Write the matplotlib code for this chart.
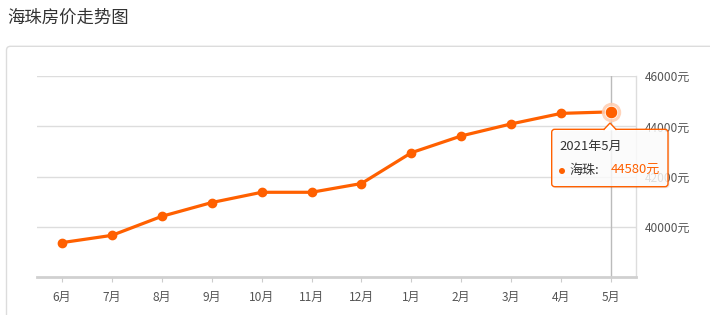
import matplotlib
matplotlib.use("Agg")
import matplotlib.pyplot as plt
from matplotlib.patches import FancyBboxPatch, Polygon, Circle
from matplotlib.transforms import IdentityTransform

plt.rcParams['font.family'] = ['Noto Sans CJK SC', 'DejaVu Sans']

months = ['6月', '7月', '8月', '9月', '10月', '11月', '12月', '1月', '2月', '3月', '4月', '5月']
prices = [39360, 39650, 40410, 40960, 41370, 41370, 41720, 42950, 43620, 44100, 44520, 44580]
yticks = [40000, 42000, 44000, 46000]
ytick_labels = [f'{v}元' for v in yticks]
title = '海珠房价走势图'
tip_title = '2021年5月'
tip_name = '海珠:'
tip_value = f'{prices[-1]}元'

ORANGE = '#ff6000'
W, H = 710, 315
fig = plt.figure(figsize=(W / 100, H / 100), dpi=100)
fig.patch.set_facecolor('white')

def px(x, y):
    # top-origin pixel -> display coords
    return (x, H - y)

# outer box
box = FancyBboxPatch(px(6.5, 330), 720, 330 - 46.3, boxstyle='round,pad=0,rounding_size=4',
                     transform=IdentityTransform(), facecolor='white', edgecolor='#dcdcdc',
                     linewidth=1, zorder=-5)
fig.patches.append(box)

fig.text(7 / W, 1 - 18 / H, title, fontsize=12.5, color='#333333', va='center', ha='left')

L, R, T, B = 37, 636, 76.3, 276.7
ax = fig.add_axes([L / W, 1 - B / H, (R - L) / W, (B - T) / H])
ax.set_facecolor('none')
x = list(range(len(months)))
ax.plot(x, prices, color=ORANGE, linewidth=2.3, marker='o', markersize=6, zorder=3,
        solid_capstyle='round')
ax.set_xlim(-0.5, len(months) - 0.5)
ax.set_ylim(38000, 46000)
ax.set_xticks(x)
ax.set_xticklabels(months, fontsize=8.6, color='#555555')
ax.set_yticks(yticks)
ax.set_yticklabels(ytick_labels, fontsize=8.6, color='#555555')
ax.yaxis.tick_right()
ax.tick_params(axis='y', length=0, pad=6)
ax.tick_params(axis='x', length=3.5, width=0.8, color='#cccccc', pad=7)
for yv in yticks:
    ax.axhline(yv, color='#dddddd', linewidth=1, zorder=1)
for s in ['left', 'top']:
    ax.spines[s].set_visible(False)
ax.spines['right'].set_color('#dddddd')
ax.spines['right'].set_linewidth(1)
ax.spines['bottom'].set_color('#d0d0d0')
ax.spines['bottom'].set_linewidth(2)

# hover line and highlighted point
ax.axvline(x[-1], color='#bbbbbb', linewidth=1, zorder=2)
ax.plot([x[-1]], [prices[-1]], 'o', markersize=14, color='#ffcdb0', alpha=0.85, zorder=4,
        markeredgewidth=0)
ax.plot([x[-1]], [prices[-1]], 'o', markersize=9, color=ORANGE, zorder=5,
        markeredgecolor='white', markeredgewidth=0.6)

# tooltip
TIPFACE = (1, 1, 1, 0.82)
bx0, bx1, by0, by1 = 551.7, 668, 129.3, 186.7
shadow = FancyBboxPatch(px(bx0 + 1.5, by1 + 1.5), bx1 - bx0, by1 - by0,
                        boxstyle='round,pad=0,rounding_size=3', transform=IdentityTransform(),
                        facecolor='#000000', alpha=0.08, edgecolor='none', zorder=9)
fig.patches.append(shadow)
tip = FancyBboxPatch(px(bx0, by1), bx1 - bx0, by1 - by0, boxstyle='round,pad=0,rounding_size=3',
                     transform=IdentityTransform(), facecolor=TIPFACE, edgecolor=ORANGE,
                     linewidth=1, zorder=10)
fig.patches.append(tip)
cover = Polygon([px(604, by0 + 0.8), px(610, 123.3), px(616, by0 + 0.8)], closed=True,
                transform=IdentityTransform(), facecolor='white', edgecolor='none', zorder=11)
fig.patches.append(cover)
arrow = Polygon([px(603.5, by0 + 0.6), px(610, 123), px(616.5, by0 + 0.6)], closed=False,
                transform=IdentityTransform(), facecolor='none', edgecolor=ORANGE,
                linewidth=1, zorder=11)
fig.patches.append(arrow)

fig.text(559 / W, 1 - 146 / H, tip_title, fontsize=9.4, color='#333333', va='center', ha='left',
         zorder=12)
fig.patches.append(Circle(px(562, 171), 3, transform=IdentityTransform(), facecolor=ORANGE,
                          edgecolor='none', zorder=12))
fig.text(569 / W, 1 - 170.5 / H, tip_name, fontsize=9.4, color='#333333', va='center', ha='left',
         zorder=12)
fig.text(611 / W, 1 - 170.5 / H, tip_value, fontsize=9.4, color=ORANGE, va='center', ha='left',
         zorder=12)

fig.savefig('out.png', dpi=100, facecolor='white')
